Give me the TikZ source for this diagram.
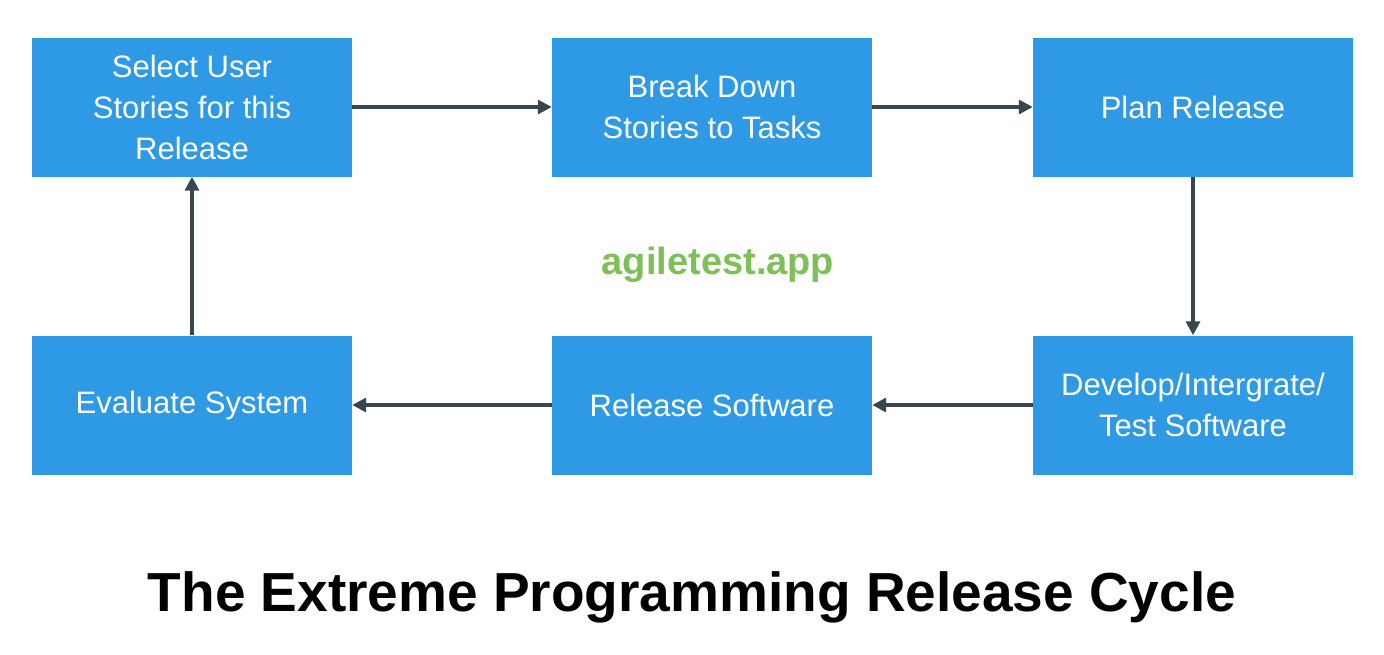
\documentclass[tikz,border=0pt]{standalone}
\usepackage{fontspec}
\setmainfont{Liberation Sans}
\usetikzlibrary{arrows.meta}
\definecolor{boxblue}{HTML}{2E9AE6}
\definecolor{arr}{HTML}{37474F}
\definecolor{grn}{HTML}{7CC057}
\begin{document}
\begin{tikzpicture}[x=1pt,y=-1pt,
  box/.style={fill=boxblue,draw=none,minimum width=320pt,minimum height=139pt,text=white,align=center,font=\fontsize{31}{41}\selectfont},
  con/.style={draw=arr,line width=3.2pt,-{Triangle[length=14pt,width=14pt]}}]
\useasboundingbox (0,0) rectangle (1384,654);
\node[box] (a) at (192,107) {Select User\\Stories for this\\Release};
\node[box] (b) at (712,107) {Break Down\\Stories to Tasks};
\node[box] (c) at (1193,107) {Plan Release};
\node[box] (d) at (1193,405) {Develop/Intergrate/\\Test Software};
\node[box] (e) at (712,405) {Release Software};
\node[box] (f) at (192,405) {Evaluate System};
\node[text=grn,font=\bfseries\fontsize{38}{44}\selectfont] (w) at (718,265) {agiletest.app};
\node[font=\bfseries\fontsize{55}{62}\selectfont] (t) at (692,597) {The Extreme Programming Release Cycle};
\draw[con] (a) -- (b);
\draw[con] (b) -- (c);
\draw[con] (c) -- (d);
\draw[con] (d) -- (e);
\draw[con] (e) -- (f);
\draw[con] (f) -- (a);
\end{tikzpicture}
\end{document}
